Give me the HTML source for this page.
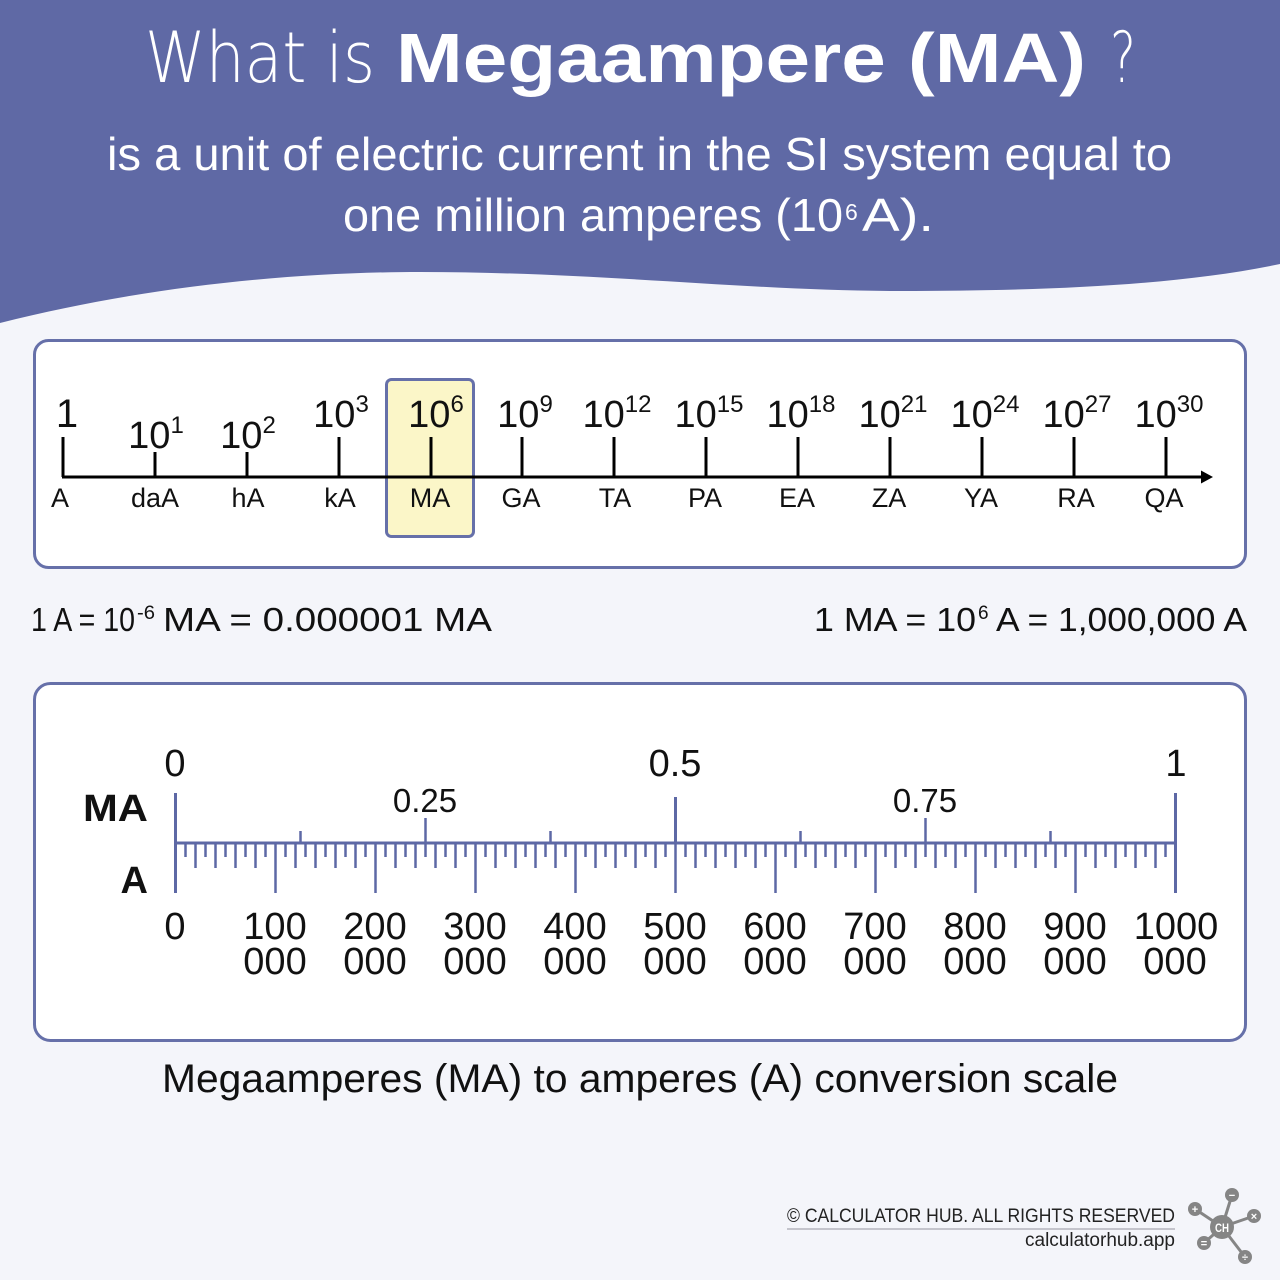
<!DOCTYPE html>
<html>
<head>
<meta charset="utf-8">
<style>
  html, body { margin:0; padding:0; width:1280px; height:1280px; overflow:hidden; background:#f4f5fa; }
  svg { display:block; }
  text { font-family: "Liberation Sans", "DejaVu Sans", sans-serif; }
  .thin { font-family: "DejaVu Sans", "Liberation Sans", sans-serif; font-weight: 200; }
</style>
</head>
<body>
<svg width="1280" height="1280" viewBox="0 0 1280 1280" xmlns="http://www.w3.org/2000/svg">
  <rect x="0" y="0" width="1280" height="1280" fill="#f4f5fa"/>
  <!-- header -->
  <path d="M0,0 H1280 V264 C1180,285 1050,291 900,291 C750,291 600,272 420,272 C300,272 150,285 0,323 Z" fill="#5f69a5"/>

  <g fill="#ffffff">
    <text class="thin" x="145" y="82" font-size="70" textLength="230" lengthAdjust="spacingAndGlyphs">What is</text>
    <text x="396" y="82" font-size="70" font-weight="bold" textLength="690" lengthAdjust="spacingAndGlyphs">Megaampere (MA)</text>
    <text class="thin" x="1110" y="82" font-size="70" textLength="26" lengthAdjust="spacingAndGlyphs">?</text>

    <text x="107" y="170" font-size="46" textLength="1065" lengthAdjust="spacingAndGlyphs">is a unit of electric current in the SI system equal to</text>
    <text x="343" y="231" font-size="46" textLength="500" lengthAdjust="spacingAndGlyphs">one million amperes (10</text>
    <text x="845" y="220" font-size="23">6</text>
    <text x="862" y="231" font-size="46" textLength="72" lengthAdjust="spacingAndGlyphs">A).</text>
  </g>

  <!-- box 1 -->
  <rect x="34.5" y="340.5" width="1211" height="227" rx="14" ry="14" fill="#ffffff" stroke="#6670a9" stroke-width="3"/>
  <rect x="386.5" y="379.5" width="87" height="157" rx="5" ry="5" fill="#fbf6c8" stroke="#6670a9" stroke-width="3"/>

  <g stroke="#000" stroke-width="3">
    <line x1="62" y1="477" x2="1205" y2="477"/>
    <line x1="63" y1="437" x2="63" y2="477"/>
    <line x1="155" y1="452" x2="155" y2="477"/>
    <line x1="247" y1="452" x2="247" y2="477"/>
    <line x1="339" y1="437" x2="339" y2="477"/>
    <line x1="431" y1="437" x2="431" y2="477"/>
    <line x1="522" y1="437" x2="522" y2="477"/>
    <line x1="614" y1="437" x2="614" y2="477"/>
    <line x1="706" y1="437" x2="706" y2="477"/>
    <line x1="798" y1="437" x2="798" y2="477"/>
    <line x1="890" y1="437" x2="890" y2="477"/>
    <line x1="982" y1="437" x2="982" y2="477"/>
    <line x1="1074" y1="437" x2="1074" y2="477"/>
    <line x1="1166" y1="437" x2="1166" y2="477"/>
  </g>
  <polygon points="1201,470.5 1213,477 1201,483.5" fill="#000"/>

  <g fill="#111" font-size="38" text-anchor="middle">
    <text x="67" y="427" font-size="40">1</text>
    <text x="156" y="448">10<tspan font-size="24" dy="-15">1</tspan></text>
    <text x="248" y="448">10<tspan font-size="24" dy="-15">2</tspan></text>
    <text x="341" y="427">10<tspan font-size="24" dy="-15">3</tspan></text>
    <text x="436" y="427">10<tspan font-size="24" dy="-15">6</tspan></text>
    <text x="525" y="427">10<tspan font-size="24" dy="-15">9</tspan></text>
    <text x="617" y="427">10<tspan font-size="24" dy="-15">12</tspan></text>
    <text x="709" y="427">10<tspan font-size="24" dy="-15">15</tspan></text>
    <text x="801" y="427">10<tspan font-size="24" dy="-15">18</tspan></text>
    <text x="893" y="427">10<tspan font-size="24" dy="-15">21</tspan></text>
    <text x="985" y="427">10<tspan font-size="24" dy="-15">24</tspan></text>
    <text x="1077" y="427">10<tspan font-size="24" dy="-15">27</tspan></text>
    <text x="1169" y="427">10<tspan font-size="24" dy="-15">30</tspan></text>
  </g>
  <g fill="#111" font-size="27" text-anchor="middle">
    <text x="60" y="507">A</text>
    <text x="155" y="507">daA</text>
    <text x="248" y="507">hA</text>
    <text x="340" y="507">kA</text>
    <text x="430" y="507">MA</text>
    <text x="521" y="507">GA</text>
    <text x="615" y="507">TA</text>
    <text x="705" y="507">PA</text>
    <text x="797" y="507">EA</text>
    <text x="889" y="507">ZA</text>
    <text x="981" y="507">YA</text>
    <text x="1076" y="507">RA</text>
    <text x="1164" y="507">QA</text>
  </g>

  <!-- equations -->
  <g fill="#111" font-size="33">
    <text x="31" y="631" textLength="104" lengthAdjust="spacingAndGlyphs">1 A = 10</text>
    <text x="137" y="619" font-size="19" textLength="18" lengthAdjust="spacingAndGlyphs">-6</text>
    <text x="163" y="631" textLength="329" lengthAdjust="spacingAndGlyphs">MA = 0.000001 MA</text>
    <text x="814" y="631" textLength="162" lengthAdjust="spacingAndGlyphs">1 MA = 10</text>
    <text x="978" y="619" font-size="19">6</text>
    <text x="996" y="631" textLength="251" lengthAdjust="spacingAndGlyphs">A = 1,000,000 A</text>
  </g>

  <!-- box 2 -->
  <rect x="34.5" y="683.5" width="1211" height="357" rx="16" ry="16" fill="#ffffff" stroke="#6670a9" stroke-width="3"/>

  <g stroke="#5d68a5" stroke-width="2.5">
    <line x1="175.5" y1="843" x2="1175.5" y2="843" stroke-width="3"/>
    <line x1="175.5" y1="793" x2="175.5" y2="893" stroke-width="3"/>
    <line x1="1175.5" y1="793" x2="1175.5" y2="893" stroke-width="3"/>
    <line x1="675.5" y1="797" x2="675.5" y2="843" stroke-width="3"/>
    <line x1="425.5" y1="818" x2="425.5" y2="843"/>
    <line x1="925.5" y1="818" x2="925.5" y2="843"/>
    <line x1="300.5" y1="831" x2="300.5" y2="843"/>
    <line x1="550.5" y1="831" x2="550.5" y2="843"/>
    <line x1="800.5" y1="831" x2="800.5" y2="843"/>
    <line x1="1050.5" y1="831" x2="1050.5" y2="843"/>
    <path d="M185.5,843V857M195.5,843V868M205.5,843V857M215.5,843V868M225.5,843V857M235.5,843V868M245.5,843V857M255.5,843V868M265.5,843V857M275.5,843V893
M285.5,843V857M295.5,843V868M305.5,843V857M315.5,843V868M325.5,843V857M335.5,843V868M345.5,843V857M355.5,843V868M365.5,843V857M375.5,843V893
M385.5,843V857M395.5,843V868M405.5,843V857M415.5,843V868M425.5,843V857M435.5,843V868M445.5,843V857M455.5,843V868M465.5,843V857M475.5,843V893
M485.5,843V857M495.5,843V868M505.5,843V857M515.5,843V868M525.5,843V857M535.5,843V868M545.5,843V857M555.5,843V868M565.5,843V857M575.5,843V893
M585.5,843V857M595.5,843V868M605.5,843V857M615.5,843V868M625.5,843V857M635.5,843V868M645.5,843V857M655.5,843V868M665.5,843V857M675.5,843V893
M685.5,843V857M695.5,843V868M705.5,843V857M715.5,843V868M725.5,843V857M735.5,843V868M745.5,843V857M755.5,843V868M765.5,843V857M775.5,843V893
M785.5,843V857M795.5,843V868M805.5,843V857M815.5,843V868M825.5,843V857M835.5,843V868M845.5,843V857M855.5,843V868M865.5,843V857M875.5,843V893
M885.5,843V857M895.5,843V868M905.5,843V857M915.5,843V868M925.5,843V857M935.5,843V868M945.5,843V857M955.5,843V868M965.5,843V857M975.5,843V893
M985.5,843V857M995.5,843V868M1005.5,843V857M1015.5,843V868M1025.5,843V857M1035.5,843V868M1045.5,843V857M1055.5,843V868M1065.5,843V857M1075.5,843V893
M1085.5,843V857M1095.5,843V868M1105.5,843V857M1115.5,843V868M1125.5,843V857M1135.5,843V868M1145.5,843V857M1155.5,843V868M1165.5,843V857" fill="none"/>
  </g>

  <g fill="#111" text-anchor="middle" font-size="38">
    <text x="175" y="776">0</text>
    <text x="675" y="776">0.5</text>
    <text x="1176" y="776">1</text>
    <text x="425" y="812" font-size="33">0.25</text>
    <text x="925" y="812" font-size="33">0.75</text>
  </g>
  <g fill="#111" text-anchor="end" font-weight="bold" font-size="38">
    <text x="148" y="821" textLength="65" lengthAdjust="spacingAndGlyphs">MA</text>
    <text x="148" y="893">A</text>
  </g>
  <g fill="#111" text-anchor="middle" font-size="38">
    <text x="175" y="939">0</text>
    <text x="275" y="939">100</text><text x="275" y="974">000</text>
    <text x="375" y="939">200</text><text x="375" y="974">000</text>
    <text x="475" y="939">300</text><text x="475" y="974">000</text>
    <text x="575" y="939">400</text><text x="575" y="974">000</text>
    <text x="675" y="939">500</text><text x="675" y="974">000</text>
    <text x="775" y="939">600</text><text x="775" y="974">000</text>
    <text x="875" y="939">700</text><text x="875" y="974">000</text>
    <text x="975" y="939">800</text><text x="975" y="974">000</text>
    <text x="1075" y="939">900</text><text x="1075" y="974">000</text>
    <text x="1176" y="939">1000</text><text x="1175" y="974">000</text>
  </g>

  <text x="162" y="1092" font-size="40" fill="#111" textLength="956" lengthAdjust="spacingAndGlyphs">Megaamperes (MA) to amperes (A) conversion scale</text>

  <!-- footer -->
  <text x="787" y="1222" font-size="19" fill="#222" textLength="388" lengthAdjust="spacingAndGlyphs">© CALCULATOR HUB. ALL RIGHTS RESERVED</text>
  <line x1="787" y1="1229" x2="1175" y2="1229" stroke="#b4b4bc" stroke-width="1.5"/>
  <text x="1175" y="1246" font-size="19" fill="#222" text-anchor="end">calculatorhub.app</text>

  <g>
    <g stroke="#858585" stroke-width="3">
      <line x1="1222" y1="1227" x2="1195" y2="1209"/>
      <line x1="1222" y1="1227" x2="1232" y2="1195"/>
      <line x1="1222" y1="1227" x2="1254" y2="1216"/>
      <line x1="1222" y1="1227" x2="1204" y2="1243"/>
      <line x1="1222" y1="1227" x2="1245" y2="1257"/>
    </g>
    <g fill="#858585">
      <circle cx="1222" cy="1227" r="12"/>
      <circle cx="1195" cy="1209" r="7"/>
      <circle cx="1232" cy="1195" r="7"/>
      <circle cx="1254" cy="1216" r="7"/>
      <circle cx="1204" cy="1243" r="7"/>
      <circle cx="1245" cy="1257" r="7"/>
    </g>
    <g fill="#ffffff" text-anchor="middle" font-weight="bold">
      <text x="1222" y="1232" font-size="12" textLength="14" lengthAdjust="spacingAndGlyphs">CH</text>
      <text x="1195" y="1213" font-size="11">+</text>
      <text x="1232" y="1199" font-size="11">−</text>
      <text x="1254" y="1220" font-size="11">×</text>
      <text x="1204" y="1247" font-size="11">=</text>
      <text x="1245" y="1261" font-size="11">÷</text>
    </g>
  </g>
</svg>
</body>
</html>
